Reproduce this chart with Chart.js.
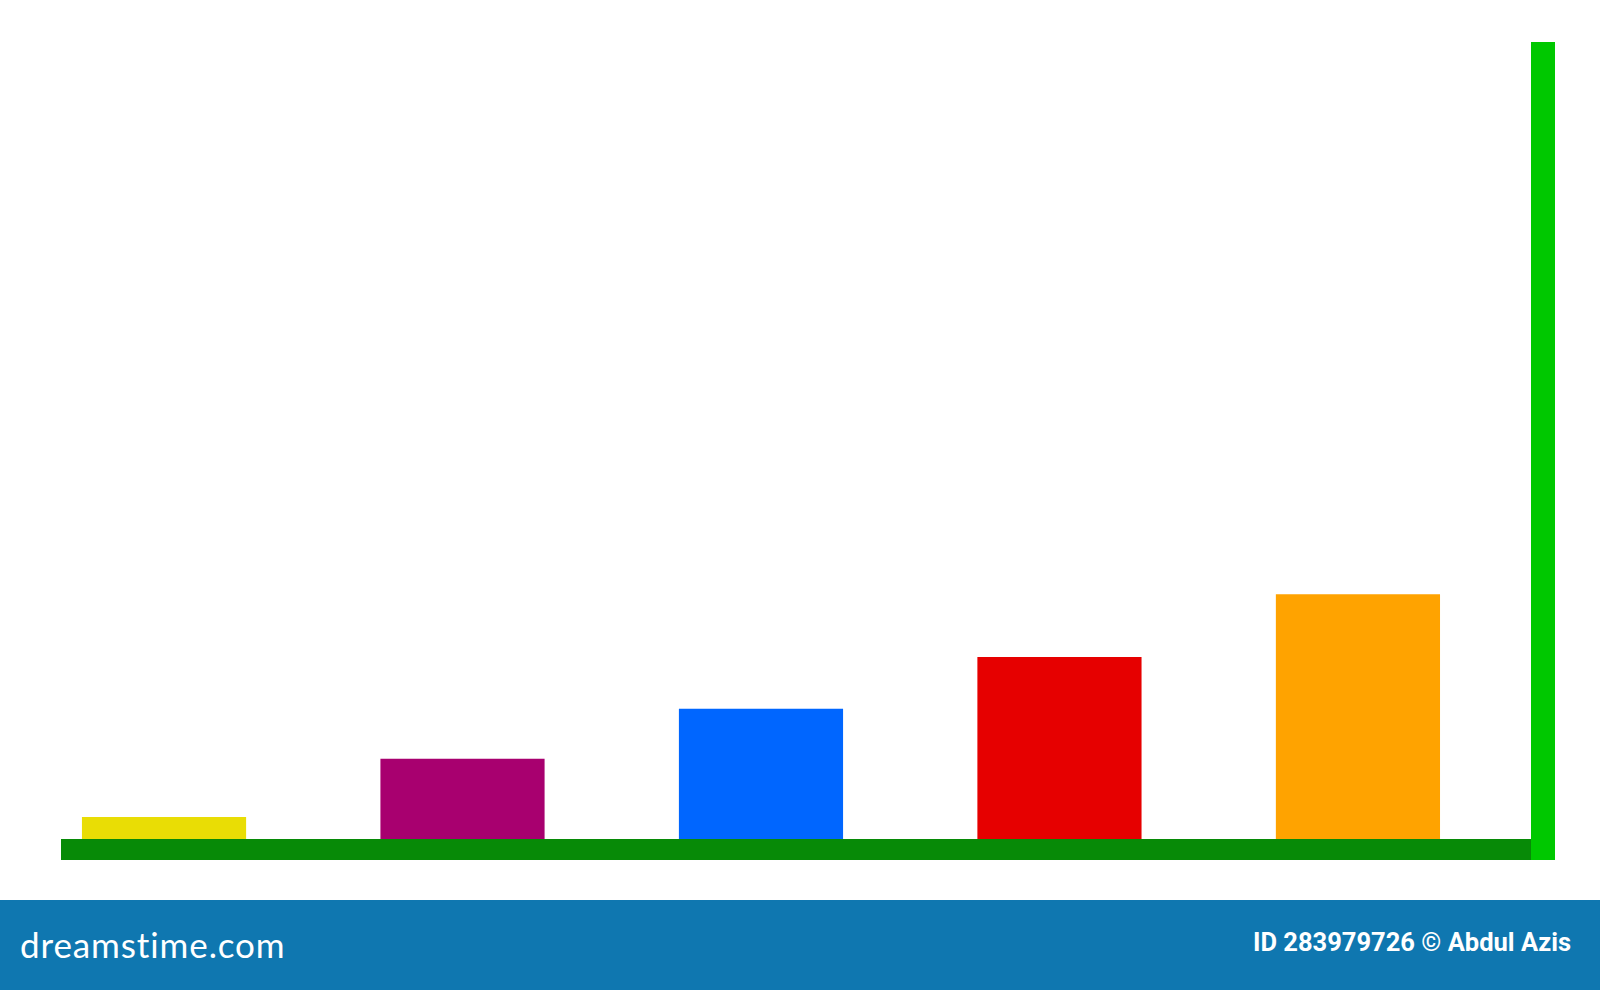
<!DOCTYPE html>
<html>
<head>
<meta charset="utf-8">
<script src="https://cdn.jsdelivr.net/npm/chart.js@4"></script>
<style>
  html, body { margin: 0; padding: 0; background: #fff; overflow: hidden; }
  #wrap { position: absolute; left: 0; top: 0; width: 1600px; height: 900px; }
  #banner {
    position: absolute; left: 0; top: 900px; width: 1600px; height: 90px;
    background: #0f77b0; color: #fff;
  }
  #logo {
    position: absolute; left: 20px; top: 23px;
    font-family: Lato, "Open Sans", sans-serif; font-size: 35px; letter-spacing: 0.9px;
  }
  #credit {
    position: absolute; right: 29px; top: 27px;
    font-family: Roboto, "Noto Sans", sans-serif; font-size: 25.5px; font-weight: bold;
  }
</style>
</head>
<body>
<div id="wrap"><canvas id="chart"></canvas></div>
<div id="banner">
  <div id="logo">dreamstime.com</div>
  <div id="credit">ID 283979726 © Abdul Azis</div>
</div>
<script>
// positions of the five bars (no labels in the picture)
const categories = [1, 2, 3, 4, 5];
const values = [4.1, 11.4, 17.7, 24.2, 32.1];

const ctx = document.getElementById('chart').getContext('2d');
new Chart(ctx, {
  type: 'bar',
  data: {
    datasets: [{
      data: categories.map((c, i) => ({ x: c, y: values[i] })),
      backgroundColor: ['#e9dd05', '#a8006f', '#0066ff', '#e60000', '#ffa300'],
      borderWidth: 0,
      barPercentage: 0.55,
      categoryPercentage: 1
    }]
  },
  options: {
    responsive: true,
    maintainAspectRatio: false,
    animation: false,
    layout: { padding: { left: 71.5, right: 57, top: 54, bottom: 50.5 } },
    plugins: { legend: { display: false }, tooltip: { enabled: false } },
    scales: {
      x: {
        type: 'linear',
        position: 'bottom',
        offset: false,
        min: 0.69,
        max: 5.62,
        ticks: { display: false, stepSize: 1, includeBounds: false },
        grid: { display: false, drawTicks: false, lineWidth: 0, offset: false },
        border: { display: true, color: '#078a07', width: 21, z: 1 }
      },
      y: {
        position: 'right',
        min: 0,
        max: 100,
        ticks: { display: false },
        grid: { display: false, drawTicks: false, lineWidth: 21 },
        border: { display: true, color: '#00c800', width: 24, z: 2 }
      }
    }
  }
});
</script>
</body>
</html>
